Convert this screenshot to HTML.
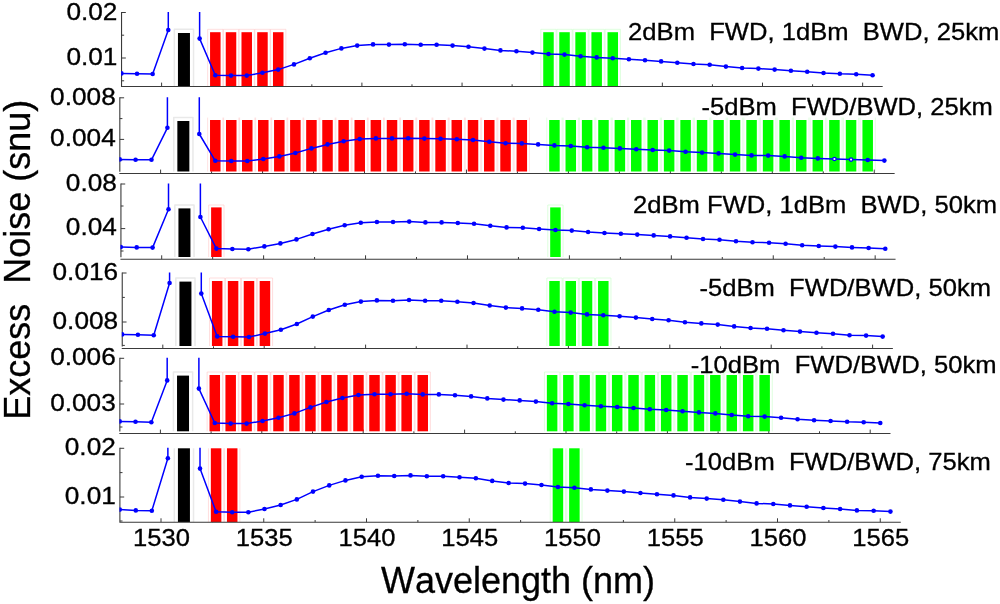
<!DOCTYPE html>
<html lang="en">
<head>
<meta charset="utf-8">
<title>Excess Noise vs Wavelength</title>
<style>
html,body{margin:0;padding:0;background:#fff;}
body{width:1000px;height:604px;overflow:hidden;}
svg{display:block;}
text{font-family:"Liberation Sans",Arial,Helvetica,sans-serif;fill:#000;font-kerning:none;}
.t{font-size:23px;stroke:#000;stroke-width:0.3px;}
.a{white-space:pre;}
.ttl{font-size:36px;stroke:#000;stroke-width:0.3px;}
</style>
</head>
<body>
<svg width="1000" height="604" viewBox="0 0 1000 604">
<rect width="1000" height="604" fill="#fff"/>
<g>
<path d="M121.54 12.5h4.3 M121.54 58h4.3 M121.54 35.2h2.6 M121.54 80.8h2.6 M161.6 86.5v-3.9 M211.68 86.5v-2.2 M261.75 86.5v-3.9 M311.83 86.5v-2.2 M361.9 86.5v-3.9 M411.98 86.5v-2.2 M462.05 86.5v-3.9 M512.12 86.5v-2.2 M562.2 86.5v-3.9 M612.27 86.5v-2.2 M662.35 86.5v-3.9 M712.43 86.5v-2.2 M762.5 86.5v-3.9 M812.58 86.5v-2.2 M862.65 86.5v-3.9" fill="none" stroke="#3a3a3a" stroke-width="1"/>
<path d="M174.35 86.3V29.3H193.55V86.3" fill="none" stroke="#e9e9e9" stroke-width="1.5" stroke-linejoin="round"/><rect x="177.95" y="33" width="12" height="53.3" fill="#000"/>
<path d="M207.66 86.3V29.3H222.96V86.3" fill="none" stroke="#ffc8c8" stroke-width="0.6" stroke-linejoin="round"/><rect x="210.06" y="32.2" width="10.5" height="54.1" fill="#ff0000"/>
<path d="M223.36 86.3V29.3H238.66V86.3" fill="none" stroke="#ffc8c8" stroke-width="0.6" stroke-linejoin="round"/><rect x="225.76" y="32.2" width="10.5" height="54.1" fill="#ff0000"/>
<path d="M239.08 86.3V29.3H254.38V86.3" fill="none" stroke="#ffc8c8" stroke-width="0.6" stroke-linejoin="round"/><rect x="241.48" y="32.2" width="10.5" height="54.1" fill="#ff0000"/>
<path d="M254.81 86.3V29.3H270.11V86.3" fill="none" stroke="#ffc8c8" stroke-width="0.6" stroke-linejoin="round"/><rect x="257.21" y="32.2" width="10.5" height="54.1" fill="#ff0000"/>
<path d="M270.57 86.3V29.3H285.87V86.3" fill="none" stroke="#ffc8c8" stroke-width="0.6" stroke-linejoin="round"/><rect x="272.97" y="32.2" width="10.5" height="54.1" fill="#ff0000"/>
<path d="M540.83 86.3V29.3H556.13V86.3" fill="none" stroke="#c8ffc8" stroke-width="0.6" stroke-linejoin="round"/><rect x="543.23" y="32.2" width="10.5" height="54.1" fill="#00ff00"/>
<path d="M556.88 86.3V29.3H572.18V86.3" fill="none" stroke="#c8ffc8" stroke-width="0.6" stroke-linejoin="round"/><rect x="559.28" y="32.2" width="10.5" height="54.1" fill="#00ff00"/>
<path d="M572.94 86.3V29.3H588.24V86.3" fill="none" stroke="#c8ffc8" stroke-width="0.6" stroke-linejoin="round"/><rect x="575.34" y="32.2" width="10.5" height="54.1" fill="#00ff00"/>
<path d="M589.02 86.3V29.3H604.32V86.3" fill="none" stroke="#c8ffc8" stroke-width="0.6" stroke-linejoin="round"/><rect x="591.42" y="32.2" width="10.5" height="54.1" fill="#00ff00"/>
<path d="M605.11 86.3V29.3H620.41V86.3" fill="none" stroke="#c8ffc8" stroke-width="0.6" stroke-linejoin="round"/><rect x="607.51" y="32.2" width="10.5" height="54.1" fill="#00ff00"/>
<path d="M121.54 12 V87 M121.04 86.5 H882.68" fill="none" stroke="#3a3a3a" stroke-width="1.1"/>
<clipPath id="c0"><rect x="121.14" y="11.9" width="771.14" height="74.4"/></clipPath>
<g clip-path="url(#c0)">
<path d="M121.42 73.4 L137.03 73.8 L152.65 74 L168.29 30 V7.5 M199.62 7.5 V38.6 L215.31 75.2 L231.01 75.6 L246.73 75.6 L262.46 72.8 L278.22 69.6 L293.98 64.4 L309.77 58.2 L325.57 52.8 L341.38 48.4 L357.21 45.6 L373.06 44.4 L388.93 44.6 L404.81 44.2 L420.71 44.8 L436.62 44.8 L452.55 45.6 L468.5 46.8 L484.46 48.6 L500.44 50.4 L516.44 51.2 L532.45 52.6 L548.48 54 L564.53 54.6 L580.59 56.2 L596.67 57.4 L612.76 58.2 L628.88 59.2 L645 60.2 L661.15 61.4 L677.31 62.8 L693.49 64 L709.69 64.8 L725.9 66.6 L742.13 68 L758.38 68.6 L774.64 69.6 L790.92 70.8 L807.22 71.8 L823.54 73 L839.87 73.8 L856.22 74.2 L872.58 75.2" fill="none" stroke="#0000ff" stroke-width="1.5" stroke-linejoin="round"/>
<circle cx="121.42" cy="73.4" r="2.3" fill="#0000ff"/><circle cx="137.03" cy="73.8" r="2.3" fill="#0000ff"/><circle cx="152.65" cy="74" r="2.3" fill="#0000ff"/><circle cx="168.29" cy="30" r="2.3" fill="#0000ff"/><circle cx="199.62" cy="38.6" r="2.3" fill="#0000ff"/><circle cx="215.31" cy="75.2" r="2.3" fill="#0000ff"/><circle cx="231.01" cy="75.6" r="2.3" fill="#0000ff"/><circle cx="246.73" cy="75.6" r="2.3" fill="#0000ff"/><circle cx="262.46" cy="72.8" r="2.3" fill="#0000ff"/><circle cx="278.22" cy="69.6" r="2.3" fill="#0000ff"/><circle cx="293.98" cy="64.4" r="2.3" fill="#0000ff"/><circle cx="309.77" cy="58.2" r="2.3" fill="#0000ff"/><circle cx="325.57" cy="52.8" r="2.3" fill="#0000ff"/><circle cx="341.38" cy="48.4" r="2.3" fill="#0000ff"/><circle cx="357.21" cy="45.6" r="2.3" fill="#0000ff"/><circle cx="373.06" cy="44.4" r="2.3" fill="#0000ff"/><circle cx="388.93" cy="44.6" r="2.3" fill="#0000ff"/><circle cx="404.81" cy="44.2" r="2.3" fill="#0000ff"/><circle cx="420.71" cy="44.8" r="2.3" fill="#0000ff"/><circle cx="436.62" cy="44.8" r="2.3" fill="#0000ff"/><circle cx="452.55" cy="45.6" r="2.3" fill="#0000ff"/><circle cx="468.5" cy="46.8" r="2.3" fill="#0000ff"/><circle cx="484.46" cy="48.6" r="2.3" fill="#0000ff"/><circle cx="500.44" cy="50.4" r="2.3" fill="#0000ff"/><circle cx="516.44" cy="51.2" r="2.3" fill="#0000ff"/><circle cx="532.45" cy="52.6" r="2.3" fill="#0000ff"/><circle cx="548.48" cy="54" r="2.3" fill="#0000ff"/><circle cx="564.53" cy="54.6" r="2.3" fill="#0000ff"/><circle cx="580.59" cy="56.2" r="2.3" fill="#0000ff"/><circle cx="596.67" cy="57.4" r="2.3" fill="#0000ff"/><circle cx="612.76" cy="58.2" r="2.3" fill="#0000ff"/><circle cx="628.88" cy="59.2" r="2.3" fill="#0000ff"/><circle cx="645" cy="60.2" r="2.3" fill="#0000ff"/><circle cx="661.15" cy="61.4" r="2.3" fill="#0000ff"/><circle cx="677.31" cy="62.8" r="2.3" fill="#0000ff"/><circle cx="693.49" cy="64" r="2.3" fill="#0000ff"/><circle cx="709.69" cy="64.8" r="2.3" fill="#0000ff"/><circle cx="725.9" cy="66.6" r="2.3" fill="#0000ff"/><circle cx="742.13" cy="68" r="2.3" fill="#0000ff"/><circle cx="758.38" cy="68.6" r="2.3" fill="#0000ff"/><circle cx="774.64" cy="69.6" r="2.3" fill="#0000ff"/><circle cx="790.92" cy="70.8" r="2.3" fill="#0000ff"/><circle cx="807.22" cy="71.8" r="2.3" fill="#0000ff"/><circle cx="823.54" cy="73" r="2.3" fill="#0000ff"/><circle cx="839.87" cy="73.8" r="2.3" fill="#0000ff"/><circle cx="856.22" cy="74.2" r="2.3" fill="#0000ff"/><circle cx="872.58" cy="75.2" r="2.3" fill="#0000ff"/>
</g>
<text class="t" text-anchor="end" transform="translate(117.44 19.7) scale(1.14 1)">0.02</text>
<text class="t" text-anchor="end" transform="translate(117.44 65.2) scale(1.14 1)">0.01</text>
<text class="t a" transform="translate(628.1 40) scale(1.113 1)">2dBm  FWD, 1dBm  BWD, 25km</text>
</g>
<g>
<path d="M119.82 97.8h4.3 M119.82 139.4h4.3 M119.82 118.6h2.6 M119.82 160h2.6 M160.6 173.5v-3.9 M211.57 173.5v-2.2 M262.55 173.5v-3.9 M313.52 173.5v-2.2 M364.5 173.5v-3.9 M415.48 173.5v-2.2 M466.45 173.5v-3.9 M517.42 173.5v-2.2 M568.4 173.5v-3.9 M619.38 173.5v-2.2 M670.35 173.5v-3.9 M721.33 173.5v-2.2 M772.3 173.5v-3.9 M823.28 173.5v-2.2 M874.25 173.5v-3.9" fill="none" stroke="#3a3a3a" stroke-width="1"/>
<path d="M173.75 171.5V117.6H192.95V171.5" fill="none" stroke="#e9e9e9" stroke-width="1.5" stroke-linejoin="round"/><rect x="177.35" y="121" width="12" height="50.5" fill="#000"/>
<line x1="207.62" y1="117.6" x2="207.62" y2="171.5" stroke="#ffc8c8" stroke-width="0.6" stroke-opacity="0.85"/><line x1="222.92" y1="117.6" x2="222.92" y2="171.5" stroke="#ffc8c8" stroke-width="0.6" stroke-opacity="0.85"/><rect x="210.02" y="120" width="10.5" height="51.5" fill="#ff0000"/>
<line x1="223.61" y1="117.6" x2="223.61" y2="171.5" stroke="#ffc8c8" stroke-width="0.6" stroke-opacity="0.85"/><line x1="238.91" y1="117.6" x2="238.91" y2="171.5" stroke="#ffc8c8" stroke-width="0.6" stroke-opacity="0.85"/><rect x="226.01" y="120" width="10.5" height="51.5" fill="#ff0000"/>
<line x1="239.61" y1="117.6" x2="239.61" y2="171.5" stroke="#ffc8c8" stroke-width="0.6" stroke-opacity="0.85"/><line x1="254.91" y1="117.6" x2="254.91" y2="171.5" stroke="#ffc8c8" stroke-width="0.6" stroke-opacity="0.85"/><rect x="242.01" y="120" width="10.5" height="51.5" fill="#ff0000"/>
<line x1="255.63" y1="117.6" x2="255.63" y2="171.5" stroke="#ffc8c8" stroke-width="0.6" stroke-opacity="0.85"/><line x1="270.93" y1="117.6" x2="270.93" y2="171.5" stroke="#ffc8c8" stroke-width="0.6" stroke-opacity="0.85"/><rect x="258.03" y="120" width="10.5" height="51.5" fill="#ff0000"/>
<line x1="271.66" y1="117.6" x2="271.66" y2="171.5" stroke="#ffc8c8" stroke-width="0.6" stroke-opacity="0.85"/><line x1="286.96" y1="117.6" x2="286.96" y2="171.5" stroke="#ffc8c8" stroke-width="0.6" stroke-opacity="0.85"/><rect x="274.06" y="120" width="10.5" height="51.5" fill="#ff0000"/>
<line x1="287.71" y1="117.6" x2="287.71" y2="171.5" stroke="#ffc8c8" stroke-width="0.6" stroke-opacity="0.85"/><line x1="303.01" y1="117.6" x2="303.01" y2="171.5" stroke="#ffc8c8" stroke-width="0.6" stroke-opacity="0.85"/><rect x="290.11" y="120" width="10.5" height="51.5" fill="#ff0000"/>
<line x1="303.78" y1="117.6" x2="303.78" y2="171.5" stroke="#ffc8c8" stroke-width="0.6" stroke-opacity="0.85"/><line x1="319.08" y1="117.6" x2="319.08" y2="171.5" stroke="#ffc8c8" stroke-width="0.6" stroke-opacity="0.85"/><rect x="306.18" y="120" width="10.5" height="51.5" fill="#ff0000"/>
<line x1="319.86" y1="117.6" x2="319.86" y2="171.5" stroke="#ffc8c8" stroke-width="0.6" stroke-opacity="0.85"/><line x1="335.16" y1="117.6" x2="335.16" y2="171.5" stroke="#ffc8c8" stroke-width="0.6" stroke-opacity="0.85"/><rect x="322.26" y="120" width="10.5" height="51.5" fill="#ff0000"/>
<line x1="335.96" y1="117.6" x2="335.96" y2="171.5" stroke="#ffc8c8" stroke-width="0.6" stroke-opacity="0.85"/><line x1="351.26" y1="117.6" x2="351.26" y2="171.5" stroke="#ffc8c8" stroke-width="0.6" stroke-opacity="0.85"/><rect x="338.36" y="120" width="10.5" height="51.5" fill="#ff0000"/>
<line x1="352.08" y1="117.6" x2="352.08" y2="171.5" stroke="#ffc8c8" stroke-width="0.6" stroke-opacity="0.85"/><line x1="367.38" y1="117.6" x2="367.38" y2="171.5" stroke="#ffc8c8" stroke-width="0.6" stroke-opacity="0.85"/><rect x="354.48" y="120" width="10.5" height="51.5" fill="#ff0000"/>
<line x1="368.21" y1="117.6" x2="368.21" y2="171.5" stroke="#ffc8c8" stroke-width="0.6" stroke-opacity="0.85"/><line x1="383.51" y1="117.6" x2="383.51" y2="171.5" stroke="#ffc8c8" stroke-width="0.6" stroke-opacity="0.85"/><rect x="370.61" y="120" width="10.5" height="51.5" fill="#ff0000"/>
<line x1="384.36" y1="117.6" x2="384.36" y2="171.5" stroke="#ffc8c8" stroke-width="0.6" stroke-opacity="0.85"/><line x1="399.66" y1="117.6" x2="399.66" y2="171.5" stroke="#ffc8c8" stroke-width="0.6" stroke-opacity="0.85"/><rect x="386.76" y="120" width="10.5" height="51.5" fill="#ff0000"/>
<line x1="400.53" y1="117.6" x2="400.53" y2="171.5" stroke="#ffc8c8" stroke-width="0.6" stroke-opacity="0.85"/><line x1="415.83" y1="117.6" x2="415.83" y2="171.5" stroke="#ffc8c8" stroke-width="0.6" stroke-opacity="0.85"/><rect x="402.93" y="120" width="10.5" height="51.5" fill="#ff0000"/>
<line x1="416.71" y1="117.6" x2="416.71" y2="171.5" stroke="#ffc8c8" stroke-width="0.6" stroke-opacity="0.85"/><line x1="432.01" y1="117.6" x2="432.01" y2="171.5" stroke="#ffc8c8" stroke-width="0.6" stroke-opacity="0.85"/><rect x="419.11" y="120" width="10.5" height="51.5" fill="#ff0000"/>
<line x1="432.91" y1="117.6" x2="432.91" y2="171.5" stroke="#ffc8c8" stroke-width="0.6" stroke-opacity="0.85"/><line x1="448.21" y1="117.6" x2="448.21" y2="171.5" stroke="#ffc8c8" stroke-width="0.6" stroke-opacity="0.85"/><rect x="435.31" y="120" width="10.5" height="51.5" fill="#ff0000"/>
<line x1="449.13" y1="117.6" x2="449.13" y2="171.5" stroke="#ffc8c8" stroke-width="0.6" stroke-opacity="0.85"/><line x1="464.43" y1="117.6" x2="464.43" y2="171.5" stroke="#ffc8c8" stroke-width="0.6" stroke-opacity="0.85"/><rect x="451.53" y="120" width="10.5" height="51.5" fill="#ff0000"/>
<line x1="465.36" y1="117.6" x2="465.36" y2="171.5" stroke="#ffc8c8" stroke-width="0.6" stroke-opacity="0.85"/><line x1="480.66" y1="117.6" x2="480.66" y2="171.5" stroke="#ffc8c8" stroke-width="0.6" stroke-opacity="0.85"/><rect x="467.76" y="120" width="10.5" height="51.5" fill="#ff0000"/>
<line x1="481.61" y1="117.6" x2="481.61" y2="171.5" stroke="#ffc8c8" stroke-width="0.6" stroke-opacity="0.85"/><line x1="496.91" y1="117.6" x2="496.91" y2="171.5" stroke="#ffc8c8" stroke-width="0.6" stroke-opacity="0.85"/><rect x="484.01" y="120" width="10.5" height="51.5" fill="#ff0000"/>
<line x1="497.88" y1="117.6" x2="497.88" y2="171.5" stroke="#ffc8c8" stroke-width="0.6" stroke-opacity="0.85"/><line x1="513.18" y1="117.6" x2="513.18" y2="171.5" stroke="#ffc8c8" stroke-width="0.6" stroke-opacity="0.85"/><rect x="500.28" y="120" width="10.5" height="51.5" fill="#ff0000"/>
<line x1="514.17" y1="117.6" x2="514.17" y2="171.5" stroke="#ffc8c8" stroke-width="0.6" stroke-opacity="0.85"/><line x1="529.47" y1="117.6" x2="529.47" y2="171.5" stroke="#ffc8c8" stroke-width="0.6" stroke-opacity="0.85"/><rect x="516.57" y="120" width="10.5" height="51.5" fill="#ff0000"/>
<line x1="546.78" y1="117.6" x2="546.78" y2="171.5" stroke="#c8ffc8" stroke-width="0.6" stroke-opacity="0.85"/><line x1="562.08" y1="117.6" x2="562.08" y2="171.5" stroke="#c8ffc8" stroke-width="0.6" stroke-opacity="0.85"/><rect x="549.18" y="120" width="10.5" height="51.5" fill="#00ff00"/>
<line x1="563.12" y1="117.6" x2="563.12" y2="171.5" stroke="#c8ffc8" stroke-width="0.6" stroke-opacity="0.85"/><line x1="578.42" y1="117.6" x2="578.42" y2="171.5" stroke="#c8ffc8" stroke-width="0.6" stroke-opacity="0.85"/><rect x="565.52" y="120" width="10.5" height="51.5" fill="#00ff00"/>
<line x1="579.47" y1="117.6" x2="579.47" y2="171.5" stroke="#c8ffc8" stroke-width="0.6" stroke-opacity="0.85"/><line x1="594.77" y1="117.6" x2="594.77" y2="171.5" stroke="#c8ffc8" stroke-width="0.6" stroke-opacity="0.85"/><rect x="581.87" y="120" width="10.5" height="51.5" fill="#00ff00"/>
<line x1="595.84" y1="117.6" x2="595.84" y2="171.5" stroke="#c8ffc8" stroke-width="0.6" stroke-opacity="0.85"/><line x1="611.14" y1="117.6" x2="611.14" y2="171.5" stroke="#c8ffc8" stroke-width="0.6" stroke-opacity="0.85"/><rect x="598.24" y="120" width="10.5" height="51.5" fill="#00ff00"/>
<line x1="612.22" y1="117.6" x2="612.22" y2="171.5" stroke="#c8ffc8" stroke-width="0.6" stroke-opacity="0.85"/><line x1="627.52" y1="117.6" x2="627.52" y2="171.5" stroke="#c8ffc8" stroke-width="0.6" stroke-opacity="0.85"/><rect x="614.62" y="120" width="10.5" height="51.5" fill="#00ff00"/>
<line x1="628.62" y1="117.6" x2="628.62" y2="171.5" stroke="#c8ffc8" stroke-width="0.6" stroke-opacity="0.85"/><line x1="643.92" y1="117.6" x2="643.92" y2="171.5" stroke="#c8ffc8" stroke-width="0.6" stroke-opacity="0.85"/><rect x="631.02" y="120" width="10.5" height="51.5" fill="#00ff00"/>
<line x1="645.04" y1="117.6" x2="645.04" y2="171.5" stroke="#c8ffc8" stroke-width="0.6" stroke-opacity="0.85"/><line x1="660.34" y1="117.6" x2="660.34" y2="171.5" stroke="#c8ffc8" stroke-width="0.6" stroke-opacity="0.85"/><rect x="647.44" y="120" width="10.5" height="51.5" fill="#00ff00"/>
<line x1="661.48" y1="117.6" x2="661.48" y2="171.5" stroke="#c8ffc8" stroke-width="0.6" stroke-opacity="0.85"/><line x1="676.78" y1="117.6" x2="676.78" y2="171.5" stroke="#c8ffc8" stroke-width="0.6" stroke-opacity="0.85"/><rect x="663.88" y="120" width="10.5" height="51.5" fill="#00ff00"/>
<line x1="677.93" y1="117.6" x2="677.93" y2="171.5" stroke="#c8ffc8" stroke-width="0.6" stroke-opacity="0.85"/><line x1="693.23" y1="117.6" x2="693.23" y2="171.5" stroke="#c8ffc8" stroke-width="0.6" stroke-opacity="0.85"/><rect x="680.33" y="120" width="10.5" height="51.5" fill="#00ff00"/>
<line x1="694.4" y1="117.6" x2="694.4" y2="171.5" stroke="#c8ffc8" stroke-width="0.6" stroke-opacity="0.85"/><line x1="709.7" y1="117.6" x2="709.7" y2="171.5" stroke="#c8ffc8" stroke-width="0.6" stroke-opacity="0.85"/><rect x="696.8" y="120" width="10.5" height="51.5" fill="#00ff00"/>
<line x1="710.89" y1="117.6" x2="710.89" y2="171.5" stroke="#c8ffc8" stroke-width="0.6" stroke-opacity="0.85"/><line x1="726.19" y1="117.6" x2="726.19" y2="171.5" stroke="#c8ffc8" stroke-width="0.6" stroke-opacity="0.85"/><rect x="713.29" y="120" width="10.5" height="51.5" fill="#00ff00"/>
<line x1="727.39" y1="117.6" x2="727.39" y2="171.5" stroke="#c8ffc8" stroke-width="0.6" stroke-opacity="0.85"/><line x1="742.69" y1="117.6" x2="742.69" y2="171.5" stroke="#c8ffc8" stroke-width="0.6" stroke-opacity="0.85"/><rect x="729.79" y="120" width="10.5" height="51.5" fill="#00ff00"/>
<line x1="743.92" y1="117.6" x2="743.92" y2="171.5" stroke="#c8ffc8" stroke-width="0.6" stroke-opacity="0.85"/><line x1="759.22" y1="117.6" x2="759.22" y2="171.5" stroke="#c8ffc8" stroke-width="0.6" stroke-opacity="0.85"/><rect x="746.32" y="120" width="10.5" height="51.5" fill="#00ff00"/>
<line x1="760.46" y1="117.6" x2="760.46" y2="171.5" stroke="#c8ffc8" stroke-width="0.6" stroke-opacity="0.85"/><line x1="775.76" y1="117.6" x2="775.76" y2="171.5" stroke="#c8ffc8" stroke-width="0.6" stroke-opacity="0.85"/><rect x="762.86" y="120" width="10.5" height="51.5" fill="#00ff00"/>
<line x1="777.01" y1="117.6" x2="777.01" y2="171.5" stroke="#c8ffc8" stroke-width="0.6" stroke-opacity="0.85"/><line x1="792.31" y1="117.6" x2="792.31" y2="171.5" stroke="#c8ffc8" stroke-width="0.6" stroke-opacity="0.85"/><rect x="779.41" y="120" width="10.5" height="51.5" fill="#00ff00"/>
<line x1="793.58" y1="117.6" x2="793.58" y2="171.5" stroke="#c8ffc8" stroke-width="0.6" stroke-opacity="0.85"/><line x1="808.88" y1="117.6" x2="808.88" y2="171.5" stroke="#c8ffc8" stroke-width="0.6" stroke-opacity="0.85"/><rect x="795.98" y="120" width="10.5" height="51.5" fill="#00ff00"/>
<line x1="810.18" y1="117.6" x2="810.18" y2="171.5" stroke="#c8ffc8" stroke-width="0.6" stroke-opacity="0.85"/><line x1="825.48" y1="117.6" x2="825.48" y2="171.5" stroke="#c8ffc8" stroke-width="0.6" stroke-opacity="0.85"/><rect x="812.58" y="120" width="10.5" height="51.5" fill="#00ff00"/>
<line x1="826.78" y1="117.6" x2="826.78" y2="171.5" stroke="#c8ffc8" stroke-width="0.6" stroke-opacity="0.85"/><line x1="842.08" y1="117.6" x2="842.08" y2="171.5" stroke="#c8ffc8" stroke-width="0.6" stroke-opacity="0.85"/><rect x="829.18" y="120" width="10.5" height="51.5" fill="#00ff00"/>
<line x1="843.41" y1="117.6" x2="843.41" y2="171.5" stroke="#c8ffc8" stroke-width="0.6" stroke-opacity="0.85"/><line x1="858.71" y1="117.6" x2="858.71" y2="171.5" stroke="#c8ffc8" stroke-width="0.6" stroke-opacity="0.85"/><rect x="845.81" y="120" width="10.5" height="51.5" fill="#00ff00"/>
<line x1="860.05" y1="117.6" x2="860.05" y2="171.5" stroke="#c8ffc8" stroke-width="0.6" stroke-opacity="0.85"/><line x1="875.35" y1="117.6" x2="875.35" y2="171.5" stroke="#c8ffc8" stroke-width="0.6" stroke-opacity="0.85"/><rect x="862.45" y="120" width="10.5" height="51.5" fill="#00ff00"/>
<path d="M119.82 97.3 V171.7 M119.32 173.5 H894.64" fill="none" stroke="#3a3a3a" stroke-width="1.1"/>
<clipPath id="c1"><rect x="119.42" y="97.2" width="784.82" height="74.3"/></clipPath>
<g clip-path="url(#c1)">
<path d="M119.7 159.4 L135.59 159.8 L151.49 159.8 L167.41 127.8 V92.8 M199.3 92.8 V134 L215.27 160.8 L231.26 161 L247.26 161 L263.28 159 L279.31 156.4 L295.36 153 L311.43 148.4 L327.51 144.4 L343.61 141.2 L359.73 139 L375.86 138.4 L392.01 138.4 L408.18 138.2 L424.36 138.6 L440.56 138.8 L456.78 139.2 L473.01 140 L489.26 141.8 L505.53 143.2 L521.82 143.4 L538.12 144.4 L554.43 145.4 L570.77 146 L587.12 147.2 L603.49 147.8 L619.87 148.4 L636.27 149.2 L652.69 150 L669.13 150.6 L685.58 151.8 L702.05 152.6 L718.54 153.4 L735.04 154.6 L751.57 155.4 L768.11 155.6 L784.66 156.4 L801.23 157.8 L817.83 158.4 L834.43 159 L851.06 159.6 L867.7 160 L884.36 160.6" fill="none" stroke="#0000ff" stroke-width="1.5" stroke-linejoin="round"/>
<circle cx="119.7" cy="159.4" r="2.3" fill="#0000ff"/><circle cx="135.59" cy="159.8" r="2.3" fill="#0000ff"/><circle cx="151.49" cy="159.8" r="2.3" fill="#0000ff"/><circle cx="167.41" cy="127.8" r="2.3" fill="#0000ff"/><circle cx="199.3" cy="134" r="2.3" fill="#0000ff"/><circle cx="215.27" cy="160.8" r="2.3" fill="#0000ff"/><circle cx="231.26" cy="161" r="2.3" fill="#0000ff"/><circle cx="247.26" cy="161" r="2.3" fill="#0000ff"/><circle cx="263.28" cy="159" r="2.3" fill="#0000ff"/><circle cx="279.31" cy="156.4" r="2.3" fill="#0000ff"/><circle cx="295.36" cy="153" r="2.3" fill="#0000ff"/><circle cx="311.43" cy="148.4" r="2.3" fill="#0000ff"/><circle cx="327.51" cy="144.4" r="2.3" fill="#0000ff"/><circle cx="343.61" cy="141.2" r="2.3" fill="#0000ff"/><circle cx="359.73" cy="139" r="2.3" fill="#0000ff"/><circle cx="375.86" cy="138.4" r="2.3" fill="#0000ff"/><circle cx="392.01" cy="138.4" r="2.3" fill="#0000ff"/><circle cx="408.18" cy="138.2" r="2.3" fill="#0000ff"/><circle cx="424.36" cy="138.6" r="2.3" fill="#0000ff"/><circle cx="440.56" cy="138.8" r="2.3" fill="#0000ff"/><circle cx="456.78" cy="139.2" r="2.3" fill="#0000ff"/><circle cx="473.01" cy="140" r="2.3" fill="#0000ff"/><circle cx="489.26" cy="141.8" r="2.3" fill="#0000ff"/><circle cx="505.53" cy="143.2" r="2.3" fill="#0000ff"/><circle cx="521.82" cy="143.4" r="2.3" fill="#0000ff"/><circle cx="538.12" cy="144.4" r="2.3" fill="#0000ff"/><circle cx="554.43" cy="145.4" r="2.3" fill="#0000ff"/><circle cx="570.77" cy="146" r="2.3" fill="#0000ff"/><circle cx="587.12" cy="147.2" r="2.3" fill="#0000ff"/><circle cx="603.49" cy="147.8" r="2.3" fill="#0000ff"/><circle cx="619.87" cy="148.4" r="2.3" fill="#0000ff"/><circle cx="636.27" cy="149.2" r="2.3" fill="#0000ff"/><circle cx="652.69" cy="150" r="2.3" fill="#0000ff"/><circle cx="669.13" cy="150.6" r="2.3" fill="#0000ff"/><circle cx="685.58" cy="151.8" r="2.3" fill="#0000ff"/><circle cx="702.05" cy="152.6" r="2.3" fill="#0000ff"/><circle cx="718.54" cy="153.4" r="2.3" fill="#0000ff"/><circle cx="735.04" cy="154.6" r="2.3" fill="#0000ff"/><circle cx="751.57" cy="155.4" r="2.3" fill="#0000ff"/><circle cx="768.11" cy="155.6" r="2.3" fill="#0000ff"/><circle cx="784.66" cy="156.4" r="2.3" fill="#0000ff"/><circle cx="801.23" cy="157.8" r="2.3" fill="#0000ff"/><circle cx="817.83" cy="158.4" r="2.3" fill="#0000ff"/><circle cx="834.43" cy="159" r="1.7" fill="#fff" stroke="#0000ff" stroke-width="1.2"/><circle cx="851.06" cy="159.6" r="1.7" fill="#fff" stroke="#0000ff" stroke-width="1.2"/><circle cx="867.7" cy="160" r="2.3" fill="#0000ff"/><circle cx="884.36" cy="160.6" r="2.3" fill="#0000ff"/>
</g>
<text class="t" text-anchor="end" transform="translate(115.72 104.5) scale(1.14 1)">0.008</text>
<text class="t" text-anchor="end" transform="translate(115.72 146.1) scale(1.14 1)">0.004</text>
<text class="t a" transform="translate(701.4 115.3) scale(1.113 1)">-5dBm  FWD/BWD, 25km</text>
</g>
<g>
<path d="M120.93 184h4.3 M120.93 228.6h4.3 M120.93 206h2.6 M120.93 251h2.6 M161.7 259.2v-3.9 M212.66 259.2v-2.2 M263.62 259.2v-3.9 M314.59 259.2v-2.2 M365.55 259.2v-3.9 M416.51 259.2v-2.2 M467.48 259.2v-3.9 M518.44 259.2v-2.2 M569.4 259.2v-3.9 M620.36 259.2v-2.2 M671.33 259.2v-3.9 M722.29 259.2v-2.2 M773.25 259.2v-3.9 M824.21 259.2v-2.2 M875.17 259.2v-3.9" fill="none" stroke="#3a3a3a" stroke-width="1"/>
<path d="M174.84 257V205H194.04V257" fill="none" stroke="#e9e9e9" stroke-width="1.5" stroke-linejoin="round"/><rect x="178.44" y="208.4" width="12" height="48.6" fill="#000"/>
<path d="M208.71 257V205H224.01V257" fill="none" stroke="#ffc8c8" stroke-width="0.6" stroke-linejoin="round"/><rect x="211.11" y="207.4" width="10.5" height="49.6" fill="#ff0000"/>
<path d="M547.79 257V205H563.09V257" fill="none" stroke="#c8ffc8" stroke-width="0.6" stroke-linejoin="round"/><rect x="550.19" y="207.4" width="10.5" height="49.6" fill="#00ff00"/>
<path d="M120.93 183.5 V257.2 M120.43 259.2 H895.56" fill="none" stroke="#3a3a3a" stroke-width="1.1"/>
<clipPath id="c2"><rect x="120.53" y="183.4" width="784.63" height="73.6"/></clipPath>
<g clip-path="url(#c2)">
<path d="M120.81 247 L136.7 247.4 L152.6 247.6 L168.51 209.2 V179 M200.39 179 V217 L216.36 248.6 L232.34 249 L248.34 249.2 L264.35 246.4 L280.38 243.4 L296.43 239.4 L312.49 234 L328.57 229.2 L344.67 225.2 L360.78 222.8 L376.91 222 L393.06 222 L409.22 221.6 L425.4 222.4 L441.6 222.4 L457.81 223 L474.04 223.8 L490.28 225.8 L506.55 227.4 L522.83 227.8 L539.12 229 L555.44 230 L571.77 230.6 L588.11 232 L604.48 233 L620.86 233.8 L637.26 234.6 L653.67 235.4 L670.1 236.4 L686.55 237.8 L703.02 239 L719.5 239.8 L736 241.2 L752.52 242.2 L769.06 242.8 L785.61 243.8 L802.18 245.2 L818.76 246 L835.37 246.6 L851.99 247.4 L868.63 248 L885.28 248.8" fill="none" stroke="#0000ff" stroke-width="1.5" stroke-linejoin="round"/>
<circle cx="120.81" cy="247" r="2.3" fill="#0000ff"/><circle cx="136.7" cy="247.4" r="2.3" fill="#0000ff"/><circle cx="152.6" cy="247.6" r="2.3" fill="#0000ff"/><circle cx="168.51" cy="209.2" r="2.3" fill="#0000ff"/><circle cx="200.39" cy="217" r="2.3" fill="#0000ff"/><circle cx="216.36" cy="248.6" r="2.3" fill="#0000ff"/><circle cx="232.34" cy="249" r="2.3" fill="#0000ff"/><circle cx="248.34" cy="249.2" r="2.3" fill="#0000ff"/><circle cx="264.35" cy="246.4" r="2.3" fill="#0000ff"/><circle cx="280.38" cy="243.4" r="2.3" fill="#0000ff"/><circle cx="296.43" cy="239.4" r="2.3" fill="#0000ff"/><circle cx="312.49" cy="234" r="2.3" fill="#0000ff"/><circle cx="328.57" cy="229.2" r="2.3" fill="#0000ff"/><circle cx="344.67" cy="225.2" r="2.3" fill="#0000ff"/><circle cx="360.78" cy="222.8" r="2.3" fill="#0000ff"/><circle cx="376.91" cy="222" r="2.3" fill="#0000ff"/><circle cx="393.06" cy="222" r="2.3" fill="#0000ff"/><circle cx="409.22" cy="221.6" r="2.3" fill="#0000ff"/><circle cx="425.4" cy="222.4" r="2.3" fill="#0000ff"/><circle cx="441.6" cy="222.4" r="2.3" fill="#0000ff"/><circle cx="457.81" cy="223" r="2.3" fill="#0000ff"/><circle cx="474.04" cy="223.8" r="2.3" fill="#0000ff"/><circle cx="490.28" cy="225.8" r="2.3" fill="#0000ff"/><circle cx="506.55" cy="227.4" r="2.3" fill="#0000ff"/><circle cx="522.83" cy="227.8" r="2.3" fill="#0000ff"/><circle cx="539.12" cy="229" r="2.3" fill="#0000ff"/><circle cx="555.44" cy="230" r="2.3" fill="#0000ff"/><circle cx="571.77" cy="230.6" r="2.3" fill="#0000ff"/><circle cx="588.11" cy="232" r="2.3" fill="#0000ff"/><circle cx="604.48" cy="233" r="2.3" fill="#0000ff"/><circle cx="620.86" cy="233.8" r="2.3" fill="#0000ff"/><circle cx="637.26" cy="234.6" r="2.3" fill="#0000ff"/><circle cx="653.67" cy="235.4" r="2.3" fill="#0000ff"/><circle cx="670.1" cy="236.4" r="2.3" fill="#0000ff"/><circle cx="686.55" cy="237.8" r="2.3" fill="#0000ff"/><circle cx="703.02" cy="239" r="2.3" fill="#0000ff"/><circle cx="719.5" cy="239.8" r="2.3" fill="#0000ff"/><circle cx="736" cy="241.2" r="2.3" fill="#0000ff"/><circle cx="752.52" cy="242.2" r="2.3" fill="#0000ff"/><circle cx="769.06" cy="242.8" r="2.3" fill="#0000ff"/><circle cx="785.61" cy="243.8" r="2.3" fill="#0000ff"/><circle cx="802.18" cy="245.2" r="2.3" fill="#0000ff"/><circle cx="818.76" cy="246" r="2.3" fill="#0000ff"/><circle cx="835.37" cy="246.6" r="2.3" fill="#0000ff"/><circle cx="851.99" cy="247.4" r="2.3" fill="#0000ff"/><circle cx="868.63" cy="248" r="2.3" fill="#0000ff"/><circle cx="885.28" cy="248.8" r="2.3" fill="#0000ff"/>
</g>
<text class="t" text-anchor="end" transform="translate(116.83 190.7) scale(1.14 1)">0.08</text>
<text class="t" text-anchor="end" transform="translate(116.83 235.3) scale(1.14 1)">0.04</text>
<text class="t a" transform="translate(633 213) scale(1.113 1)">2dBm FWD, 1dBm  BWD, 50km</text>
</g>
<g>
<path d="M122.24 273h4.3 M122.24 322h4.3 M122.24 297.4h2.6 M122.24 345.4h2.6 M162.8 348.5v-3.9 M213.5 348.5v-2.2 M264.2 348.5v-3.9 M314.9 348.5v-2.2 M365.6 348.5v-3.9 M416.3 348.5v-2.2 M467 348.5v-3.9 M517.7 348.5v-2.2 M568.4 348.5v-3.9 M619.1 348.5v-2.2 M669.8 348.5v-3.9 M720.5 348.5v-2.2 M771.2 348.5v-3.9 M821.9 348.5v-2.2 M872.6 348.5v-3.9" fill="none" stroke="#3a3a3a" stroke-width="1"/>
<path d="M175.83 346V278H195.03V346" fill="none" stroke="#e9e9e9" stroke-width="1.5" stroke-linejoin="round"/><rect x="179.43" y="281.6" width="12" height="64.4" fill="#000"/>
<path d="M209.53 346V278H224.83V346" fill="none" stroke="#ffc8c8" stroke-width="0.6" stroke-linejoin="round"/><rect x="211.93" y="281" width="10.5" height="65" fill="#ff0000"/>
<path d="M225.43 346V278H240.73V346" fill="none" stroke="#ffc8c8" stroke-width="0.6" stroke-linejoin="round"/><rect x="227.83" y="281" width="10.5" height="65" fill="#ff0000"/>
<path d="M241.34 346V278H256.64V346" fill="none" stroke="#ffc8c8" stroke-width="0.6" stroke-linejoin="round"/><rect x="243.74" y="281" width="10.5" height="65" fill="#ff0000"/>
<path d="M257.27 346V278H272.57V346" fill="none" stroke="#ffc8c8" stroke-width="0.6" stroke-linejoin="round"/><rect x="259.67" y="281" width="10.5" height="65" fill="#ff0000"/>
<path d="M546.86 346V278H562.16V346" fill="none" stroke="#c8ffc8" stroke-width="0.6" stroke-linejoin="round"/><rect x="549.26" y="281" width="10.5" height="65" fill="#00ff00"/>
<path d="M563.1 346V278H578.4V346" fill="none" stroke="#c8ffc8" stroke-width="0.6" stroke-linejoin="round"/><rect x="565.5" y="281" width="10.5" height="65" fill="#00ff00"/>
<path d="M579.37 346V278H594.67V346" fill="none" stroke="#c8ffc8" stroke-width="0.6" stroke-linejoin="round"/><rect x="581.77" y="281" width="10.5" height="65" fill="#00ff00"/>
<path d="M595.65 346V278H610.95V346" fill="none" stroke="#c8ffc8" stroke-width="0.6" stroke-linejoin="round"/><rect x="598.05" y="281" width="10.5" height="65" fill="#00ff00"/>
<path d="M122.24 272.5 V346.5 M121.74 348.5 H892.88" fill="none" stroke="#3a3a3a" stroke-width="1.1"/>
<clipPath id="c3"><rect x="121.84" y="272.4" width="780.64" height="73.6"/></clipPath>
<g clip-path="url(#c3)">
<path d="M122.12 334.4 L137.92 334.8 L153.74 335.2 L169.58 283 V268 M201.29 268 V293.6 L217.18 336.4 L233.08 336.8 L248.99 337 L264.92 333.6 L280.87 329.8 L296.83 324 L312.82 316.6 L328.81 310 L344.83 304.8 L360.86 301.6 L376.9 300.4 L392.97 300.8 L409.05 300 L425.14 300.8 L441.25 300.8 L457.38 301.8 L473.53 303 L489.69 305.5 L505.87 307.6 L522.07 308.4 L538.28 309.8 L554.51 311.8 L570.75 312.6 L587.02 314.4 L603.3 315.2 L619.59 316.2 L635.91 317.6 L652.24 319 L668.59 320.2 L684.95 322.2 L701.33 323.4 L717.73 324.6 L734.15 326.4 L750.58 328 L767.03 328.8 L783.49 330.2 L799.98 331.6 L816.48 332.8 L833 333.8 L849.53 335.2 L866.09 335.6 L882.66 336.6" fill="none" stroke="#0000ff" stroke-width="1.5" stroke-linejoin="round"/>
<circle cx="122.12" cy="334.4" r="2.3" fill="#0000ff"/><circle cx="137.92" cy="334.8" r="2.3" fill="#0000ff"/><circle cx="153.74" cy="335.2" r="2.3" fill="#0000ff"/><circle cx="169.58" cy="283" r="2.3" fill="#0000ff"/><circle cx="201.29" cy="293.6" r="2.3" fill="#0000ff"/><circle cx="217.18" cy="336.4" r="2.3" fill="#0000ff"/><circle cx="233.08" cy="336.8" r="2.3" fill="#0000ff"/><circle cx="248.99" cy="337" r="2.3" fill="#0000ff"/><circle cx="264.92" cy="333.6" r="2.3" fill="#0000ff"/><circle cx="280.87" cy="329.8" r="2.3" fill="#0000ff"/><circle cx="296.83" cy="324" r="2.3" fill="#0000ff"/><circle cx="312.82" cy="316.6" r="2.3" fill="#0000ff"/><circle cx="328.81" cy="310" r="2.3" fill="#0000ff"/><circle cx="344.83" cy="304.8" r="2.3" fill="#0000ff"/><circle cx="360.86" cy="301.6" r="2.3" fill="#0000ff"/><circle cx="376.9" cy="300.4" r="2.3" fill="#0000ff"/><circle cx="392.97" cy="300.8" r="2.3" fill="#0000ff"/><circle cx="409.05" cy="300" r="2.3" fill="#0000ff"/><circle cx="425.14" cy="300.8" r="2.3" fill="#0000ff"/><circle cx="441.25" cy="300.8" r="2.3" fill="#0000ff"/><circle cx="457.38" cy="301.8" r="2.3" fill="#0000ff"/><circle cx="473.53" cy="303" r="2.3" fill="#0000ff"/><circle cx="489.69" cy="305.5" r="2.3" fill="#0000ff"/><circle cx="505.87" cy="307.6" r="2.3" fill="#0000ff"/><circle cx="522.07" cy="308.4" r="2.3" fill="#0000ff"/><circle cx="538.28" cy="309.8" r="2.3" fill="#0000ff"/><circle cx="554.51" cy="311.8" r="2.3" fill="#0000ff"/><circle cx="570.75" cy="312.6" r="2.3" fill="#0000ff"/><circle cx="587.02" cy="314.4" r="2.3" fill="#0000ff"/><circle cx="603.3" cy="315.2" r="2.3" fill="#0000ff"/><circle cx="619.59" cy="316.2" r="2.3" fill="#0000ff"/><circle cx="635.91" cy="317.6" r="2.3" fill="#0000ff"/><circle cx="652.24" cy="319" r="2.3" fill="#0000ff"/><circle cx="668.59" cy="320.2" r="2.3" fill="#0000ff"/><circle cx="684.95" cy="322.2" r="2.3" fill="#0000ff"/><circle cx="701.33" cy="323.4" r="2.3" fill="#0000ff"/><circle cx="717.73" cy="324.6" r="2.3" fill="#0000ff"/><circle cx="734.15" cy="326.4" r="2.3" fill="#0000ff"/><circle cx="750.58" cy="328" r="2.3" fill="#0000ff"/><circle cx="767.03" cy="328.8" r="2.3" fill="#0000ff"/><circle cx="783.49" cy="330.2" r="2.3" fill="#0000ff"/><circle cx="799.98" cy="331.6" r="2.3" fill="#0000ff"/><circle cx="816.48" cy="332.8" r="2.3" fill="#0000ff"/><circle cx="833" cy="333.8" r="2.3" fill="#0000ff"/><circle cx="849.53" cy="335.2" r="2.3" fill="#0000ff"/><circle cx="866.09" cy="335.6" r="2.3" fill="#0000ff"/><circle cx="882.66" cy="336.6" r="2.3" fill="#0000ff"/>
</g>
<text class="t" text-anchor="end" transform="translate(118.14 279.7) scale(1.14 1)">0.016</text>
<text class="t" text-anchor="end" transform="translate(118.14 328.7) scale(1.14 1)">0.008</text>
<text class="t a" transform="translate(699.5 296.2) scale(1.113 1)">-5dBm  FWD/BWD, 50km</text>
</g>
<g>
<path d="M119.84 358.3h4.3 M119.84 404h4.3 M119.84 381h2.6 M119.84 427h2.6 M160.4 433.5v-3.9 M211.1 433.5v-2.2 M261.8 433.5v-3.9 M312.5 433.5v-2.2 M363.2 433.5v-3.9 M413.9 433.5v-2.2 M464.6 433.5v-3.9 M515.3 433.5v-2.2 M566 433.5v-3.9 M616.7 433.5v-2.2 M667.4 433.5v-3.9 M718.1 433.5v-2.2 M768.8 433.5v-3.9 M819.5 433.5v-2.2 M870.2 433.5v-3.9" fill="none" stroke="#3a3a3a" stroke-width="1"/>
<path d="M173.43 431.3V372H192.63V431.3" fill="none" stroke="#e9e9e9" stroke-width="1.5" stroke-linejoin="round"/><rect x="177.03" y="375.6" width="12" height="55.7" fill="#000"/>
<path d="M207.13 431.3V372H222.43V431.3" fill="none" stroke="#ffc8c8" stroke-width="0.6" stroke-linejoin="round"/><rect x="209.53" y="375" width="10.5" height="56.3" fill="#ff0000"/>
<path d="M223.03 431.3V372H238.33V431.3" fill="none" stroke="#ffc8c8" stroke-width="0.6" stroke-linejoin="round"/><rect x="225.43" y="375" width="10.5" height="56.3" fill="#ff0000"/>
<path d="M238.94 431.3V372H254.24V431.3" fill="none" stroke="#ffc8c8" stroke-width="0.6" stroke-linejoin="round"/><rect x="241.34" y="375" width="10.5" height="56.3" fill="#ff0000"/>
<path d="M254.87 431.3V372H270.17V431.3" fill="none" stroke="#ffc8c8" stroke-width="0.6" stroke-linejoin="round"/><rect x="257.27" y="375" width="10.5" height="56.3" fill="#ff0000"/>
<path d="M270.82 431.3V372H286.12V431.3" fill="none" stroke="#ffc8c8" stroke-width="0.6" stroke-linejoin="round"/><rect x="273.22" y="375" width="10.5" height="56.3" fill="#ff0000"/>
<path d="M286.78 431.3V372H302.08V431.3" fill="none" stroke="#ffc8c8" stroke-width="0.6" stroke-linejoin="round"/><rect x="289.18" y="375" width="10.5" height="56.3" fill="#ff0000"/>
<path d="M302.77 431.3V372H318.07V431.3" fill="none" stroke="#ffc8c8" stroke-width="0.6" stroke-linejoin="round"/><rect x="305.17" y="375" width="10.5" height="56.3" fill="#ff0000"/>
<path d="M318.76 431.3V372H334.06V431.3" fill="none" stroke="#ffc8c8" stroke-width="0.6" stroke-linejoin="round"/><rect x="321.16" y="375" width="10.5" height="56.3" fill="#ff0000"/>
<path d="M334.78 431.3V372H350.08V431.3" fill="none" stroke="#ffc8c8" stroke-width="0.6" stroke-linejoin="round"/><rect x="337.18" y="375" width="10.5" height="56.3" fill="#ff0000"/>
<path d="M350.81 431.3V372H366.11V431.3" fill="none" stroke="#ffc8c8" stroke-width="0.6" stroke-linejoin="round"/><rect x="353.21" y="375" width="10.5" height="56.3" fill="#ff0000"/>
<path d="M366.85 431.3V372H382.15V431.3" fill="none" stroke="#ffc8c8" stroke-width="0.6" stroke-linejoin="round"/><rect x="369.25" y="375" width="10.5" height="56.3" fill="#ff0000"/>
<path d="M382.92 431.3V372H398.22V431.3" fill="none" stroke="#ffc8c8" stroke-width="0.6" stroke-linejoin="round"/><rect x="385.32" y="375" width="10.5" height="56.3" fill="#ff0000"/>
<path d="M399 431.3V372H414.3V431.3" fill="none" stroke="#ffc8c8" stroke-width="0.6" stroke-linejoin="round"/><rect x="401.4" y="375" width="10.5" height="56.3" fill="#ff0000"/>
<path d="M415.09 431.3V372H430.39V431.3" fill="none" stroke="#ffc8c8" stroke-width="0.6" stroke-linejoin="round"/><rect x="417.49" y="375" width="10.5" height="56.3" fill="#ff0000"/>
<path d="M544.46 431.3V372H559.76V431.3" fill="none" stroke="#c8ffc8" stroke-width="0.6" stroke-linejoin="round"/><rect x="546.86" y="375" width="10.5" height="56.3" fill="#00ff00"/>
<path d="M560.7 431.3V372H576V431.3" fill="none" stroke="#c8ffc8" stroke-width="0.6" stroke-linejoin="round"/><rect x="563.1" y="375" width="10.5" height="56.3" fill="#00ff00"/>
<path d="M576.97 431.3V372H592.27V431.3" fill="none" stroke="#c8ffc8" stroke-width="0.6" stroke-linejoin="round"/><rect x="579.37" y="375" width="10.5" height="56.3" fill="#00ff00"/>
<path d="M593.25 431.3V372H608.55V431.3" fill="none" stroke="#c8ffc8" stroke-width="0.6" stroke-linejoin="round"/><rect x="595.65" y="375" width="10.5" height="56.3" fill="#00ff00"/>
<path d="M609.54 431.3V372H624.84V431.3" fill="none" stroke="#c8ffc8" stroke-width="0.6" stroke-linejoin="round"/><rect x="611.94" y="375" width="10.5" height="56.3" fill="#00ff00"/>
<path d="M625.86 431.3V372H641.16V431.3" fill="none" stroke="#c8ffc8" stroke-width="0.6" stroke-linejoin="round"/><rect x="628.26" y="375" width="10.5" height="56.3" fill="#00ff00"/>
<path d="M642.19 431.3V372H657.49V431.3" fill="none" stroke="#c8ffc8" stroke-width="0.6" stroke-linejoin="round"/><rect x="644.59" y="375" width="10.5" height="56.3" fill="#00ff00"/>
<path d="M658.54 431.3V372H673.84V431.3" fill="none" stroke="#c8ffc8" stroke-width="0.6" stroke-linejoin="round"/><rect x="660.94" y="375" width="10.5" height="56.3" fill="#00ff00"/>
<path d="M674.9 431.3V372H690.2V431.3" fill="none" stroke="#c8ffc8" stroke-width="0.6" stroke-linejoin="round"/><rect x="677.3" y="375" width="10.5" height="56.3" fill="#00ff00"/>
<path d="M691.28 431.3V372H706.58V431.3" fill="none" stroke="#c8ffc8" stroke-width="0.6" stroke-linejoin="round"/><rect x="693.68" y="375" width="10.5" height="56.3" fill="#00ff00"/>
<path d="M707.68 431.3V372H722.98V431.3" fill="none" stroke="#c8ffc8" stroke-width="0.6" stroke-linejoin="round"/><rect x="710.08" y="375" width="10.5" height="56.3" fill="#00ff00"/>
<path d="M724.1 431.3V372H739.4V431.3" fill="none" stroke="#c8ffc8" stroke-width="0.6" stroke-linejoin="round"/><rect x="726.5" y="375" width="10.5" height="56.3" fill="#00ff00"/>
<path d="M740.53 431.3V372H755.83V431.3" fill="none" stroke="#c8ffc8" stroke-width="0.6" stroke-linejoin="round"/><rect x="742.93" y="375" width="10.5" height="56.3" fill="#00ff00"/>
<path d="M756.98 431.3V372H772.28V431.3" fill="none" stroke="#c8ffc8" stroke-width="0.6" stroke-linejoin="round"/><rect x="759.38" y="375" width="10.5" height="56.3" fill="#00ff00"/>
<path d="M119.84 357.8 V431.5 M119.34 433.5 H890.48" fill="none" stroke="#3a3a3a" stroke-width="1.1"/>
<clipPath id="c4"><rect x="119.44" y="357.7" width="780.64" height="73.6"/></clipPath>
<g clip-path="url(#c4)">
<path d="M119.72 421.4 L135.52 421.8 L151.34 422.2 L167.18 380.4 V353.3 M198.89 353.3 V388.6 L214.78 423 L230.68 423.6 L246.59 423.6 L262.52 421 L278.47 417.8 L294.43 413.4 L310.42 407.4 L326.41 402 L342.43 398 L358.46 395 L374.5 394.2 L390.57 394.2 L406.65 393.8 L422.74 394.4 L438.85 394.4 L454.98 395.2 L471.13 396.4 L487.29 398.4 L503.47 399.6 L519.67 400.4 L535.88 401.6 L552.11 403.2 L568.35 404 L584.62 405.2 L600.9 406.2 L617.19 407 L633.51 408 L649.84 409.2 L666.19 410 L682.55 411.2 L698.93 412.4 L715.33 413.4 L731.75 415 L748.18 416.2 L764.63 416.6 L781.09 417.8 L797.58 419.2 L814.08 420.2 L830.6 421 L847.13 421.8 L863.69 422.2 L880.26 423" fill="none" stroke="#0000ff" stroke-width="1.5" stroke-linejoin="round"/>
<circle cx="119.72" cy="421.4" r="2.3" fill="#0000ff"/><circle cx="135.52" cy="421.8" r="2.3" fill="#0000ff"/><circle cx="151.34" cy="422.2" r="2.3" fill="#0000ff"/><circle cx="167.18" cy="380.4" r="2.3" fill="#0000ff"/><circle cx="198.89" cy="388.6" r="2.3" fill="#0000ff"/><circle cx="214.78" cy="423" r="2.3" fill="#0000ff"/><circle cx="230.68" cy="423.6" r="2.3" fill="#0000ff"/><circle cx="246.59" cy="423.6" r="2.3" fill="#0000ff"/><circle cx="262.52" cy="421" r="2.3" fill="#0000ff"/><circle cx="278.47" cy="417.8" r="2.3" fill="#0000ff"/><circle cx="294.43" cy="413.4" r="2.3" fill="#0000ff"/><circle cx="310.42" cy="407.4" r="2.3" fill="#0000ff"/><circle cx="326.41" cy="402" r="2.3" fill="#0000ff"/><circle cx="342.43" cy="398" r="2.3" fill="#0000ff"/><circle cx="358.46" cy="395" r="2.3" fill="#0000ff"/><circle cx="374.5" cy="394.2" r="2.3" fill="#0000ff"/><circle cx="390.57" cy="394.2" r="2.3" fill="#0000ff"/><circle cx="406.65" cy="393.8" r="2.3" fill="#0000ff"/><circle cx="422.74" cy="394.4" r="2.3" fill="#0000ff"/><circle cx="438.85" cy="394.4" r="2.3" fill="#0000ff"/><circle cx="454.98" cy="395.2" r="2.3" fill="#0000ff"/><circle cx="471.13" cy="396.4" r="2.3" fill="#0000ff"/><circle cx="487.29" cy="398.4" r="2.3" fill="#0000ff"/><circle cx="503.47" cy="399.6" r="2.3" fill="#0000ff"/><circle cx="519.67" cy="400.4" r="2.3" fill="#0000ff"/><circle cx="535.88" cy="401.6" r="2.3" fill="#0000ff"/><circle cx="552.11" cy="403.2" r="2.3" fill="#0000ff"/><circle cx="568.35" cy="404" r="2.3" fill="#0000ff"/><circle cx="584.62" cy="405.2" r="2.3" fill="#0000ff"/><circle cx="600.9" cy="406.2" r="2.3" fill="#0000ff"/><circle cx="617.19" cy="407" r="2.3" fill="#0000ff"/><circle cx="633.51" cy="408" r="2.3" fill="#0000ff"/><circle cx="649.84" cy="409.2" r="2.3" fill="#0000ff"/><circle cx="666.19" cy="410" r="2.3" fill="#0000ff"/><circle cx="682.55" cy="411.2" r="2.3" fill="#0000ff"/><circle cx="698.93" cy="412.4" r="2.3" fill="#0000ff"/><circle cx="715.33" cy="413.4" r="2.3" fill="#0000ff"/><circle cx="731.75" cy="415" r="2.3" fill="#0000ff"/><circle cx="748.18" cy="416.2" r="2.3" fill="#0000ff"/><circle cx="764.63" cy="416.6" r="2.3" fill="#0000ff"/><circle cx="781.09" cy="417.8" r="2.3" fill="#0000ff"/><circle cx="797.58" cy="419.2" r="2.3" fill="#0000ff"/><circle cx="814.08" cy="420.2" r="2.3" fill="#0000ff"/><circle cx="830.6" cy="421" r="2.3" fill="#0000ff"/><circle cx="847.13" cy="421.8" r="2.3" fill="#0000ff"/><circle cx="863.69" cy="422.2" r="2.3" fill="#0000ff"/><circle cx="880.26" cy="423" r="2.3" fill="#0000ff"/>
</g>
<text class="t" text-anchor="end" transform="translate(115.74 365) scale(1.14 1)">0.006</text>
<text class="t" text-anchor="end" transform="translate(115.74 410.7) scale(1.14 1)">0.003</text>
<text class="t a" transform="translate(690.8 373.4) scale(1.113 1)">-10dBm  FWD/BWD, 50km</text>
</g>
<g>
<path d="M119.9 448.3h4.3 M119.9 497h4.3 M119.9 472.6h2.6 M119.9 521h2.6 M161 522.2v-3.9 M212.38 522.2v-2.2 M263.75 522.2v-3.9 M315.12 522.2v-2.2 M366.5 522.2v-3.9 M417.88 522.2v-2.2 M469.25 522.2v-3.9 M520.62 522.2v-2.2 M572 522.2v-3.9 M623.38 522.2v-2.2 M674.75 522.2v-3.9 M726.12 522.2v-2.2 M777.5 522.2v-3.9 M828.88 522.2v-2.2 M880.25 522.2v-3.9" fill="none" stroke="#3a3a3a" stroke-width="1"/>
<line x1="174.33" y1="448.3" x2="174.33" y2="522" stroke="#e9e9e9" stroke-width="1.5"/><line x1="193.53" y1="448.3" x2="193.53" y2="522" stroke="#e9e9e9" stroke-width="1.5"/><rect x="177.93" y="448.3" width="12" height="73.7" fill="#000"/>
<line x1="208.45" y1="448.3" x2="208.45" y2="522" stroke="#ffc8c8" stroke-width="0.6"/><line x1="223.75" y1="448.3" x2="223.75" y2="522" stroke="#ffc8c8" stroke-width="0.6"/><rect x="210.85" y="448.3" width="10.5" height="73.7" fill="#ff0000"/>
<line x1="224.56" y1="448.3" x2="224.56" y2="522" stroke="#ffc8c8" stroke-width="0.6"/><line x1="239.86" y1="448.3" x2="239.86" y2="522" stroke="#ffc8c8" stroke-width="0.6"/><rect x="226.96" y="448.3" width="10.5" height="73.7" fill="#ff0000"/>
<line x1="550.27" y1="448.3" x2="550.27" y2="522" stroke="#c8ffc8" stroke-width="0.6"/><line x1="565.57" y1="448.3" x2="565.57" y2="522" stroke="#c8ffc8" stroke-width="0.6"/><rect x="552.67" y="448.3" width="10.5" height="73.7" fill="#00ff00"/>
<line x1="566.74" y1="448.3" x2="566.74" y2="522" stroke="#c8ffc8" stroke-width="0.6"/><line x1="582.04" y1="448.3" x2="582.04" y2="522" stroke="#c8ffc8" stroke-width="0.6"/><rect x="569.14" y="448.3" width="10.5" height="73.7" fill="#00ff00"/>
<path d="M119.9 447.8 V522.7 M119.4 522.2 H900.8" fill="none" stroke="#3a3a3a" stroke-width="1.1"/>
<clipPath id="c5"><rect x="119.5" y="447.7" width="790.9" height="74.3"/></clipPath>
<g clip-path="url(#c5)">
<path d="M119.78 509.6 L135.79 510.4 L151.82 510.8 L167.87 458.2 V443.3 M200.01 443.3 V468.6 L216.1 511.8 L232.21 512.2 L248.34 512.2 L264.48 509 L280.64 505 L296.82 499.4 L313.01 491.6 L329.22 485.4 L345.45 480.4 L361.69 476.8 L377.95 475.8 L394.23 476 L410.52 475.4 L426.83 476.2 L443.16 476.2 L459.51 477.2 L475.87 478.2 L492.24 480.9 L508.64 483 L525.05 483.6 L541.48 485 L557.92 487 L574.39 487.8 L590.87 489.4 L607.36 490.6 L623.88 491.6 L640.41 493 L656.95 494.2 L673.52 495.4 L690.1 497.4 L706.7 498.6 L723.32 499.8 L739.95 501.6 L756.6 503.4 L773.27 504 L789.96 505.4 L806.66 506.8 L823.38 508 L840.12 509 L856.88 510.4 L873.65 510.8 L890.44 511.6" fill="none" stroke="#0000ff" stroke-width="1.5" stroke-linejoin="round"/>
<circle cx="119.78" cy="509.6" r="2.3" fill="#0000ff"/><circle cx="135.79" cy="510.4" r="2.3" fill="#0000ff"/><circle cx="151.82" cy="510.8" r="2.3" fill="#0000ff"/><circle cx="167.87" cy="458.2" r="2.3" fill="#0000ff"/><circle cx="200.01" cy="468.6" r="2.3" fill="#0000ff"/><circle cx="216.1" cy="511.8" r="2.3" fill="#0000ff"/><circle cx="232.21" cy="512.2" r="2.3" fill="#0000ff"/><circle cx="248.34" cy="512.2" r="2.3" fill="#0000ff"/><circle cx="264.48" cy="509" r="2.3" fill="#0000ff"/><circle cx="280.64" cy="505" r="2.3" fill="#0000ff"/><circle cx="296.82" cy="499.4" r="2.3" fill="#0000ff"/><circle cx="313.01" cy="491.6" r="2.3" fill="#0000ff"/><circle cx="329.22" cy="485.4" r="2.3" fill="#0000ff"/><circle cx="345.45" cy="480.4" r="2.3" fill="#0000ff"/><circle cx="361.69" cy="476.8" r="2.3" fill="#0000ff"/><circle cx="377.95" cy="475.8" r="2.3" fill="#0000ff"/><circle cx="394.23" cy="476" r="2.3" fill="#0000ff"/><circle cx="410.52" cy="475.4" r="2.3" fill="#0000ff"/><circle cx="426.83" cy="476.2" r="2.3" fill="#0000ff"/><circle cx="443.16" cy="476.2" r="2.3" fill="#0000ff"/><circle cx="459.51" cy="477.2" r="2.3" fill="#0000ff"/><circle cx="475.87" cy="478.2" r="2.3" fill="#0000ff"/><circle cx="492.24" cy="480.9" r="2.3" fill="#0000ff"/><circle cx="508.64" cy="483" r="2.3" fill="#0000ff"/><circle cx="525.05" cy="483.6" r="2.3" fill="#0000ff"/><circle cx="541.48" cy="485" r="2.3" fill="#0000ff"/><circle cx="557.92" cy="487" r="2.3" fill="#0000ff"/><circle cx="574.39" cy="487.8" r="2.3" fill="#0000ff"/><circle cx="590.87" cy="489.4" r="2.3" fill="#0000ff"/><circle cx="607.36" cy="490.6" r="2.3" fill="#0000ff"/><circle cx="623.88" cy="491.6" r="2.3" fill="#0000ff"/><circle cx="640.41" cy="493" r="2.3" fill="#0000ff"/><circle cx="656.95" cy="494.2" r="2.3" fill="#0000ff"/><circle cx="673.52" cy="495.4" r="2.3" fill="#0000ff"/><circle cx="690.1" cy="497.4" r="2.3" fill="#0000ff"/><circle cx="706.7" cy="498.6" r="2.3" fill="#0000ff"/><circle cx="723.32" cy="499.8" r="2.3" fill="#0000ff"/><circle cx="739.95" cy="501.6" r="2.3" fill="#0000ff"/><circle cx="756.6" cy="503.4" r="2.3" fill="#0000ff"/><circle cx="773.27" cy="504" r="2.3" fill="#0000ff"/><circle cx="789.96" cy="505.4" r="2.3" fill="#0000ff"/><circle cx="806.66" cy="506.8" r="2.3" fill="#0000ff"/><circle cx="823.38" cy="508" r="2.3" fill="#0000ff"/><circle cx="840.12" cy="509" r="2.3" fill="#0000ff"/><circle cx="856.88" cy="510.4" r="2.3" fill="#0000ff"/><circle cx="873.65" cy="510.8" r="2.3" fill="#0000ff"/><circle cx="890.44" cy="511.6" r="2.3" fill="#0000ff"/>
</g>
<text class="t" text-anchor="end" transform="translate(115.8 455) scale(1.14 1)">0.02</text>
<text class="t" text-anchor="end" transform="translate(115.8 503.7) scale(1.14 1)">0.01</text>
<text class="t a" transform="translate(685.1 469.8) scale(1.113 1)">-10dBm  FWD/BWD, 75km</text>
</g>
<g>
<text class="t" text-anchor="middle" transform="translate(161.5 545.7) scale(1.113 1)">1530</text>
<text class="t" text-anchor="middle" transform="translate(264.25 545.7) scale(1.113 1)">1535</text>
<text class="t" text-anchor="middle" transform="translate(367 545.7) scale(1.113 1)">1540</text>
<text class="t" text-anchor="middle" transform="translate(469.75 545.7) scale(1.113 1)">1545</text>
<text class="t" text-anchor="middle" transform="translate(572.5 545.7) scale(1.113 1)">1550</text>
<text class="t" text-anchor="middle" transform="translate(675.25 545.7) scale(1.113 1)">1555</text>
<text class="t" text-anchor="middle" transform="translate(778 545.7) scale(1.113 1)">1560</text>
<text class="t" text-anchor="middle" transform="translate(880.75 545.7) scale(1.113 1)">1565</text>
</g>
<text class="ttl" x="381" y="592.8">Wavelength (nm)</text>
<text class="ttl a" transform="translate(30.3 419.8) rotate(-90) scale(1 1.04)">Excess  Noise (snu)</text>
</svg>
</body>
</html>
